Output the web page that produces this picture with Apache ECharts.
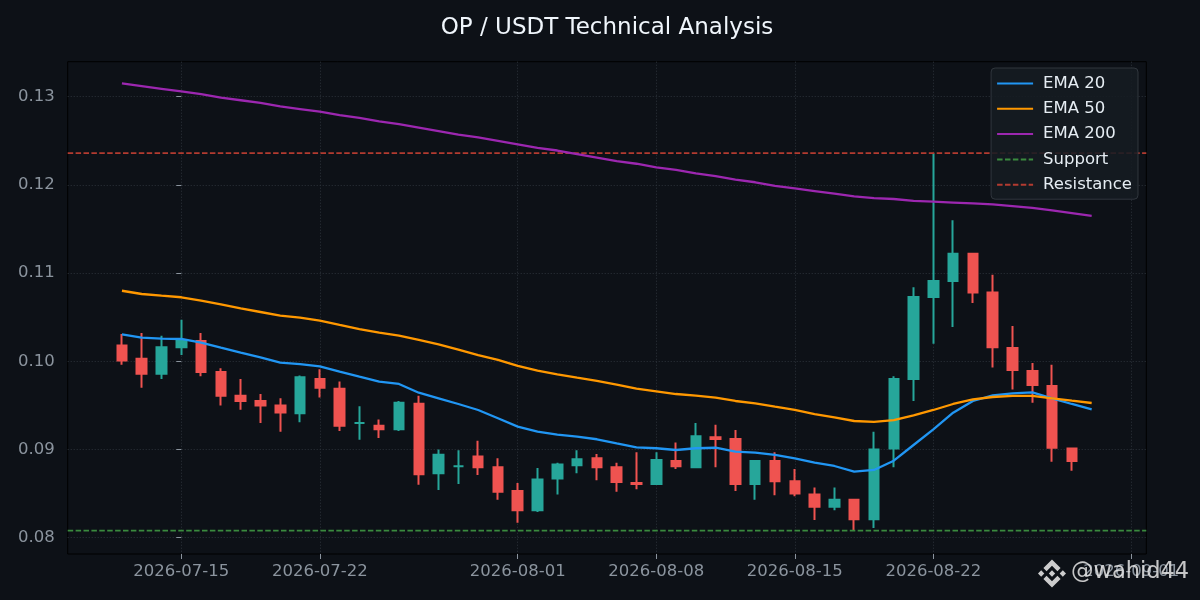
<!DOCTYPE html>
<html>
<head>
<meta charset="utf-8">
<script src="https://cdn.jsdelivr.net/npm/echarts@6/dist/echarts.min.js"></script>
<style>
html,body{margin:0;padding:0;background:#0d1117;}
#chart{width:1200px;height:600px;}
</style>
</head>
<body>
<div id="chart"></div>
<script>
// ---------------- DATA ----------------
const candleDates = [
  '2026-07-12','2026-07-13','2026-07-14','2026-07-15','2026-07-16','2026-07-17','2026-07-18','2026-07-19',
  '2026-07-20','2026-07-21','2026-07-22','2026-07-23','2026-07-24','2026-07-25','2026-07-26','2026-07-27',
  '2026-07-28','2026-07-29','2026-07-30','2026-07-31','2026-08-01','2026-08-02','2026-08-03','2026-08-04',
  '2026-08-05','2026-08-06','2026-08-07','2026-08-08','2026-08-09','2026-08-10','2026-08-11','2026-08-12',
  '2026-08-13','2026-08-14','2026-08-15','2026-08-16','2026-08-17','2026-08-18','2026-08-19','2026-08-20',
  '2026-08-21','2026-08-22','2026-08-23','2026-08-24','2026-08-25','2026-08-26','2026-08-27','2026-08-28',
  '2026-08-29'
];
const openVals = [
  0.1018,0.1003,0.0986,0.1016,0.1023,0.0988,0.0961,0.0955,
  0.0950,0.0941,0.0980,0.0969,0.0930,0.0927,0.0923,0.0952,
  0.0873,0.0881,0.0892,0.0880,0.0853,0.0831,0.0867,0.0882,
  0.0890,0.0880,0.0862,0.0861,0.0887,0.0880,0.0914,0.0912,
  0.0861,0.0887,0.0864,0.0849,0.0835,0.0843,0.0821,0.0901,
  0.0980,0.1073,0.1091,0.1122,0.1078,0.1015,0.0989,0.0972,
  0.0901
];
const closeVals = [
  0.1001,0.0986,0.1016,0.1024,0.0988,0.0961,0.0955,0.0950,
  0.0942,0.0982,0.0970,0.0927,0.0930,0.0923,0.0953,0.0872,
  0.0894,0.0881,0.0880,0.0852,0.0831,0.0866,0.0883,0.0889,
  0.0880,0.0863,0.0861,0.0888,0.0881,0.0915,0.0912,0.0861,
  0.0887,0.0864,0.0850,0.0835,0.0843,0.0821,0.0900,0.0980,
  0.1073,0.1091,0.1122,0.1078,0.1016,0.0990,0.0973,0.0902,
  0.0887
];
const lowVals = [
  0.0996,0.0970,0.0980,0.1007,0.0983,0.0950,0.0945,0.0930,
  0.0920,0.0931,0.0959,0.0921,0.0911,0.0913,0.0921,0.0860,
  0.0854,0.0861,0.0871,0.0843,0.0817,0.0829,0.0849,0.0873,
  0.0865,0.0852,0.0855,0.0860,0.0878,0.0879,0.0880,0.0853,
  0.0843,0.0848,0.0847,0.0820,0.0831,0.0808,0.0811,0.0880,
  0.0955,0.1020,0.1039,0.1066,0.0993,0.0968,0.0953,0.0886,
  0.0876
];
const highVals = [
  0.1031,0.1032,0.1029,0.1047,0.1032,0.0992,0.0980,0.0963,
  0.0958,0.0984,0.0991,0.0977,0.0949,0.0934,0.0955,0.0961,
  0.0900,0.0899,0.0910,0.0890,0.0862,0.0879,0.0885,0.0899,
  0.0895,0.0885,0.0897,0.0897,0.0908,0.0930,0.0928,0.0922,
  0.0888,0.0897,0.0878,0.0857,0.0857,0.0844,0.0920,0.0983,
  0.1084,0.1236,0.1160,0.1122,0.1098,0.1040,0.0998,0.0996,
  0.0902
];
const emaDates = candleDates.concat(['2026-08-30']);
const ema20 = [
  0.10306,0.10268,0.10256,0.10253,0.10211,0.10154,0.10098,0.10045,
  0.09985,0.09969,0.09943,0.09882,0.09825,0.09769,0.09743,0.09644,
  0.09580,0.09516,0.09448,0.09354,0.09259,0.09202,0.09168,0.09145,
  0.09116,0.09070,0.09025,0.09014,0.08994,0.09014,0.09020,0.08975,
  0.08964,0.08938,0.08900,0.08850,0.08813,0.08748,0.08768,0.08873,
  0.09051,0.09229,0.09417,0.09550,0.09614,0.09637,0.09648,0.09580,
  0.09516,0.09456
];
const ema50 = [
  0.10800,0.10763,0.10744,0.10726,0.10687,0.10646,0.10601,0.10559,
  0.10517,0.10494,0.10460,0.10412,0.10366,0.10325,0.10291,0.10242,
  0.10193,0.10132,0.10071,0.10015,0.09947,0.09894,0.09853,0.09814,
  0.09777,0.09735,0.09689,0.09660,0.09629,0.09610,0.09587,0.09550,
  0.09524,0.09485,0.09448,0.09402,0.09365,0.09323,0.09312,0.09334,
  0.09388,0.09448,0.09516,0.09569,0.09595,0.09607,0.09607,0.09580,
  0.09553,0.09527
];
const ema200 = [
  0.1315,0.1312,0.1309,0.1306,0.1303,0.1299,0.1296,0.1293,
  0.1289,0.1286,0.1283,0.1279,0.1276,0.1272,0.1269,0.1265,
  0.1261,0.1257,0.1254,0.1250,0.1246,0.1242,0.1239,0.1235,
  0.1231,0.1227,0.1224,0.1220,0.1217,0.1213,0.1210,0.1206,
  0.1203,0.1199,0.1196,0.1193,0.1190,0.1187,0.1185,0.1184,
  0.1182,0.1181,0.1180,0.1179,0.1178,0.1176,0.1174,0.1171,
  0.1168,0.1165
];
const supportLevel = 0.0808;
const resistanceLevel = 0.1236;
const xTickLabels = ['2026-07-15','2026-07-22','2026-08-01','2026-08-08','2026-08-15','2026-08-22','2026-09-01'];
const yTickValues = [0.08,0.09,0.10,0.11,0.12,0.13];

// ---------------- BUILD ----------------
const BASE = Date.parse('2026-07-15T00:00:00Z');
const toDay = s => (Date.parse(s + 'T00:00:00Z') - BASE) / 86400000;
const X_MIN = -5.74, X_MAX = 48.76;

const candleData = candleDates.map((d, i) => [toDay(d), openVals[i], closeVals[i], lowVals[i], highVals[i]]);
const lineData = arr => emaDates.map((d, i) => [toDay(d), arr[i]]);
const xTickDays = xTickLabels.map(toDay);

const FONT = 'DejaVu Sans';
const chart = echarts.init(document.getElementById('chart'), null, {renderer: 'canvas'});
chart.setOption({
  backgroundColor: '#0d1117',
  animation: false,
  title: {
    text: 'OP / USDT Technical Analysis',
    left: 607, top: 17, textAlign: 'center', padding: 0,
    textStyle: {color: '#f0f6fc', fontSize: 23, fontWeight: 'normal', fontFamily: FONT}
  },
  grid: {
    left: 67.7, right: 53.7, top: 61.7, bottom: 46,
    show: true, backgroundColor: '#0d1117', borderColor: '#000000', borderWidth: 1
  },
  legend: {
    orient: 'vertical', right: 62, top: 68,
    data: ['EMA 20', 'EMA 50', 'EMA 200', 'Support', 'Resistance'],
    itemWidth: 36, itemHeight: 14, itemGap: 8.3,
    padding: [7, 6, 6, 5],
    itemStyle: {opacity: 0},
    lineStyle: {width: 2},
    backgroundColor: 'rgba(22,27,34,0.88)', borderColor: '#30363d', borderWidth: 1, borderRadius: 4,
    textStyle: {color: '#e6edf3', fontSize: 16.5, fontFamily: FONT, padding: [0, 0, 0, 5]}
  },
  xAxis: {
    type: 'value', min: X_MIN, max: X_MAX,
    axisLine: {show: false},
    axisTick: {show: true, length: 5, lineStyle: {color: '#8b949e'}, customValues: xTickDays},
    axisLabel: {
      customValues: xTickDays, margin: 9, color: '#8b949e', fontSize: 16.5, fontFamily: FONT,
      formatter: v => { const i = xTickDays.findIndex(t => Math.abs(t - v) < 1e-6); return i >= 0 ? xTickLabels[i] : ''; }
    },
    splitLine: {show: true, lineStyle: {color: '#2d333b', type: [1, 2], width: 1}}
  },
  yAxis: {
    type: 'value', min: 0.07815, max: 0.13397, scale: true,
    axisLine: {show: false},
    axisTick: {show: true, length: 5, lineStyle: {color: '#8b949e'}, customValues: yTickValues},
    axisLabel: {
      customValues: yTickValues, margin: 13, color: '#8b949e', fontSize: 16.5, fontFamily: FONT,
      formatter: v => v.toFixed(2)
    },
    splitLine: {show: true, lineStyle: {color: '#2d333b', type: [1, 2], width: 1}}
  },
  series: [
    {
      name: 'OP', type: 'candlestick', data: candleData, barWidth: 10,
      encode: {x: 0, y: [1, 2, 3, 4]},
      itemStyle: {
        color: '#26a69a', color0: '#ef5350', borderColor: '#26a69a', borderColor0: '#ef5350',
        borderColorDoji: '#26a69a', borderWidth: 2
      },
      z: 2
    },
    {name: 'Support', type: 'line', data: [[X_MIN, supportLevel], [X_MAX, supportLevel]], showSymbol: false, symbol: 'none',
     lineStyle: {color: '#3a8a3e', width: 1.7, type: [5.5, 2.4]}, itemStyle: {color: '#3a8a3e'}, z: 3},
    {name: 'Resistance', type: 'line', data: [[X_MIN, resistanceLevel], [X_MAX, resistanceLevel]], showSymbol: false, symbol: 'none',
     lineStyle: {color: '#b33b30', width: 1.7, type: [5.5, 2.4]}, itemStyle: {color: '#b33b30'}, z: 3},
    {name: 'EMA 20', type: 'line', data: lineData(ema20), showSymbol: false, symbol: 'none',
     lineStyle: {color: '#2196f3', width: 2.3}, itemStyle: {color: '#2196f3'}, z: 4},
    {name: 'EMA 50', type: 'line', data: lineData(ema50), showSymbol: false, symbol: 'none',
     lineStyle: {color: '#ff9800', width: 2.3}, itemStyle: {color: '#ff9800'}, z: 4},
    {name: 'EMA 200', type: 'line', data: lineData(ema200), showSymbol: false, symbol: 'none',
     lineStyle: {color: '#9c27b0', width: 2.3}, itemStyle: {color: '#9c27b0'}, z: 4}
  ],
  graphic: [
    {
      type: 'group', left: 1038, top: 559.5, z: 100,
      children: [
        {type: 'polygon', scaleX: 0.2211, scaleY: 0.2211, shape: {points: [[38.73,53.2],[63.3,28.63],[87.9,53.22],[102.2,38.92],[63.3,0],[24.42,38.9]]}, style: {fill: 'rgba(225,225,225,0.9)'}},
        {type: 'polygon', scaleX: 0.2211, scaleY: 0.2211, shape: {points: [[0,63.31],[14.3,49.01],[28.6,63.31],[14.3,77.61]]}, style: {fill: 'rgba(225,225,225,0.9)'}},
        {type: 'polygon', scaleX: 0.2211, scaleY: 0.2211, shape: {points: [[63.3,48.9],[77.8,63.3],[63.3,77.8],[48.8,63.3]]}, style: {fill: 'rgba(225,225,225,0.9)'}},
        {type: 'polygon', scaleX: 0.2211, scaleY: 0.2211, shape: {points: [[98,63.31],[112.3,49],[126.6,63.3],[112.3,77.6]]}, style: {fill: 'rgba(225,225,225,0.9)'}},
        {type: 'polygon', scaleX: 0.2211, scaleY: 0.2211, shape: {points: [[38.73,73.41],[63.3,97.98],[87.9,73.4],[102.2,87.69],[63.3,126.61],[24.42,87.71]]}, style: {fill: 'rgba(225,225,225,0.9)'}}
      ]
    },
    {
      type: 'text', left: 1071, top: 561, z: 100,
      style: {text: '@wahid44', fill: 'rgba(230,230,230,0.85)', font: '22.5px "DejaVu Sans"'}
    }
  ]
});
</script>
</body>
</html>
